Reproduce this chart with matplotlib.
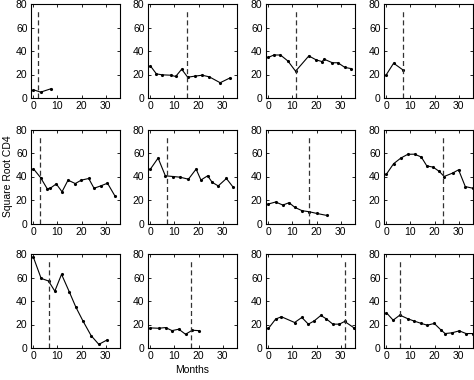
import matplotlib.pyplot as plt

# months and square root CD4 counts, one list per patient (left to right, top to bottom)
months = [
    [0, 3, 7.5],
    [0, 2.5, 5, 8.5, 10.5, 13, 15.5, 18.5, 21.5, 24.5, 29, 33],
    [0, 2.3, 5, 8.1, 11.3, 16.8, 19.9, 22.3, 23.2, 26.6, 28.9, 31.8, 34.5],
    [0, 3, 6.8],
    [0, 3, 5.7, 7, 9.5, 11.9, 14.4, 17.4, 19.9, 23, 25.2, 28, 30.8, 33.9],
    [0, 3.2, 6.2, 9.4, 12.4, 15.8, 19, 21, 23.8, 25.7, 28.2, 31.6, 34.4],
    [0, 3, 6, 8.6, 11, 14, 17, 20, 24.2],
    [0, 3, 6, 8.9, 11.7, 14.5, 16.8, 19.4, 22, 24, 27.5, 30, 32.8, 36],
    [0, 3.2, 6.3, 8.9, 11.7, 14.9, 17.6, 20.6, 24, 27.2, 30.4],
    [0, 3.5, 6.3, 9, 11.8, 14.6, 17.4, 20],
    [0, 3, 5.4, 10.9, 13.9, 16.6, 19, 21.8, 24, 26.8, 29.5, 31.7, 35.4],
    [0, 2.8, 5.6, 8.9, 11.3, 14.5, 17, 19.9, 22.5, 24.4, 27.2, 30.3, 33.1, 36],
]
sqrt_cd4 = [
    [7, 5, 8],
    [27.3, 20.5, 19.7, 19.4, 18.3, 24.5, 17.7, 18.6, 19.4, 18, 13, 17],
    [34.6, 36.6, 36.6, 31.5, 22.8, 35.8, 32.4, 31, 33, 30, 30, 26, 25],
    [20, 29.6, 24],
    [46.6, 39, 29.7, 30, 33.7, 27, 36.9, 34, 36.9, 38.3, 30, 32, 34.3, 23.4],
    [46.3, 55.7, 40.6, 40, 39.4, 37.7, 46.3, 37, 40.6, 35, 32, 38.3, 30.9],
    [16.6, 18.3, 15.7, 17.7, 13.7, 10.9, 10, 8.6, 6.9],
    [42, 50.9, 55.7, 58.9, 59, 56.6, 49, 48, 44.3, 40, 42.9, 45.7, 31.4, 30],
    [77.2, 59.3, 57, 48.4, 62.7, 47.9, 35, 23, 10.5, 3.1, 6.6],
    [17.1, 16.8, 17.4, 14.8, 16, 11.7, 15.1, 14.8],
    [16.6, 24.6, 26.6, 21.7, 26, 20.3, 23, 27.7, 24.9, 20.3, 20.3, 22.6, 17.4],
    [30, 23.7, 28, 24.9, 23.1, 20.9, 19.4, 20.9, 15.7, 12.3, 12.9, 14.6, 12.3, 12.3],
]
# month of treatment change (dashed line)
change_month = [2.1, 15.4, 11.3, 6.9, 2.9, 7, 17, 23.5, 6.3, 17, 31.8, 5.6]

plt.rcParams['font.family'] = ['Liberation Sans', 'DejaVu Sans']
plt.rcParams['font.size'] = 7.5

W, H = 474, 380
fig = plt.figure(figsize=(W / 100, H / 100), dpi=100)
col_left = [31, 148, 266, 384]
row_top = [4, 129.5, 254]
aw, ah = 89, 94

axes = []
for i in range(12):
    r, c = divmod(i, 4)
    ax = fig.add_axes([col_left[c] / W, 1 - (row_top[r] + ah) / H, aw / W, ah / H])
    ax.plot(months[i], sqrt_cd4[i], color='black', lw=0.8, marker='.', ms=2.5)
    ax.plot([change_month[i], change_month[i]], [0, 75], color='#333333',
            lw=0.9, dashes=(4, 2.5))
    ax.set_xlim(-1, 36)
    ax.set_ylim(0, 80)
    ax.set_xticks([0, 10, 20, 30])
    ax.set_yticks([0, 20, 40, 60, 80])
    ax.tick_params(direction='in', top=True, right=True, length=2, width=0.6, pad=2.5)
    for s in ax.spines.values():
        s.set_linewidth(0.8)
    axes.append(ax)

fig.text(8 / W, 1 - 176.5 / H, 'Square Root CD4', rotation=90, ha='center', va='center')
fig.text(192.5 / W, 1 - 370 / H, 'Months', ha='center', va='center')

fig.savefig('out.png', dpi=100)
